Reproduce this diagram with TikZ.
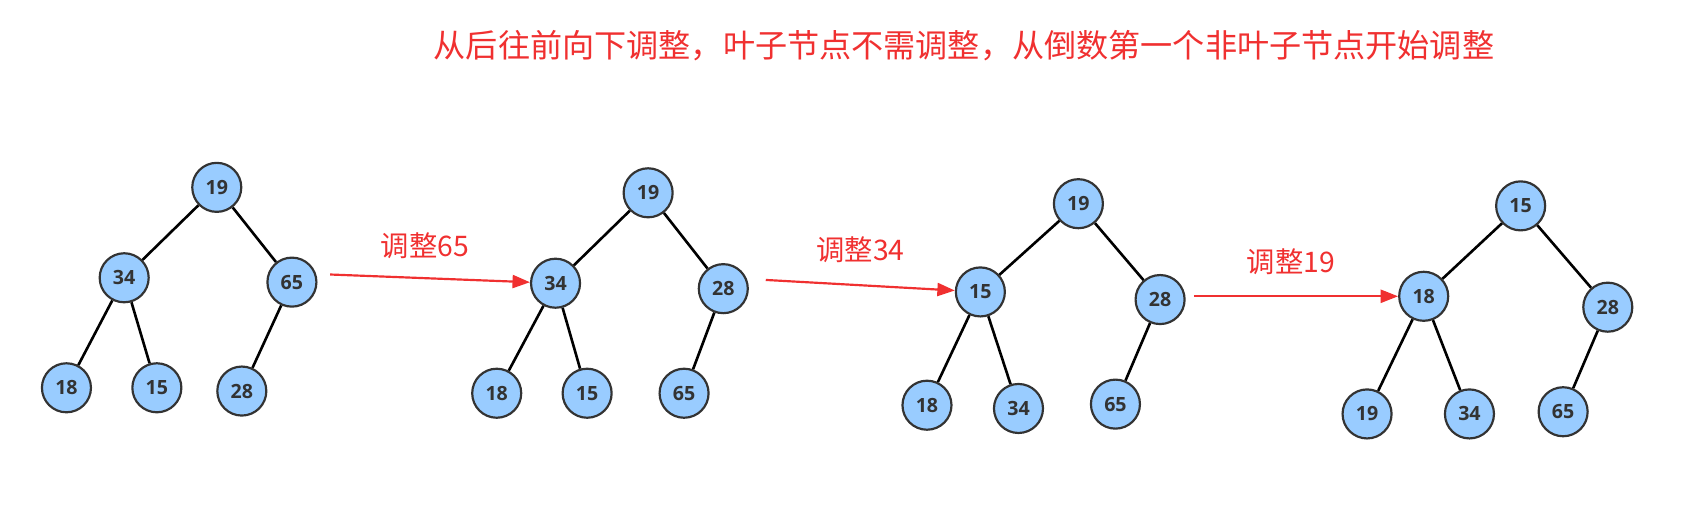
\documentclass[tikz,border=0pt]{standalone}
\usepackage{fontspec}
\setmainfont{Open Sans}
\newfontfamily\cjk{Noto Sans CJK SC}
\usetikzlibrary{arrows.meta}
\definecolor{nodeblue}{HTML}{99CCFF}
\definecolor{redtxt}{HTML}{F03030}
\begin{document}
\begin{tikzpicture}[x=1pt,y=-1pt,
  hn/.style={circle,draw=black!80,line width=2pt,fill=nodeblue,minimum size=45pt,inner sep=0pt,font=\bfseries\fontsize{18}{18}\selectfont,text=black!80},
  ed/.style={line width=2.4pt,black},
  sarrow/.style={draw=redtxt,line width=2pt,-{Triangle[length=16pt,width=12pt]}},
  lab/.style={text=redtxt,font=\cjk\fontsize{26}{26}\selectfont}]
\useasboundingbox (0,0) rectangle (1568,465);
\node[text=redtxt,font=\cjk\fontsize{29.5}{29.5}\selectfont] (title) at (885,42) {从后往前向下调整，叶子节点不需调整，从倒数第一个非叶子节点开始调整};
% tree 1
\node[hn] (a19) at (199,172) {19};
\node[hn] (a34) at (114,255) {34};
\node[hn] (a65) at (268,259) {65};
\node[hn] (a18) at (61,356) {18};
\node[hn] (a15) at (144,356) {15};
\node[hn] (a28) at (222,359) {28};
\draw[ed] (a19)--(a34); \draw[ed] (a19)--(a65); \draw[ed] (a34)--(a18); \draw[ed] (a34)--(a15); \draw[ed] (a65)--(a28);
% tree 2
\node[hn] (b19) at (595,177) {19};
\node[hn] (b34) at (510,260) {34};
\node[hn] (b28) at (664,265) {28};
\node[hn] (b18) at (456,361) {18};
\node[hn] (b15) at (539,361) {15};
\node[hn] (b65) at (628,361) {65};
\draw[ed] (b19)--(b34); \draw[ed] (b19)--(b28); \draw[ed] (b34)--(b18); \draw[ed] (b34)--(b15); \draw[ed] (b28)--(b65);
% tree 3
\node[hn] (c19) at (990,187) {19};
\node[hn] (c15) at (900,268) {15};
\node[hn] (c28) at (1065,275) {28};
\node[hn] (c18) at (851,372) {18};
\node[hn] (c34) at (935,375) {34};
\node[hn] (c65) at (1024,371) {65};
\draw[ed] (c19)--(c15); \draw[ed] (c19)--(c28); \draw[ed] (c15)--(c18); \draw[ed] (c15)--(c34); \draw[ed] (c28)--(c65);
% tree 4
\node[hn] (d15) at (1396,189) {15};
\node[hn] (d18) at (1307,272) {18};
\node[hn] (d28) at (1476,282) {28};
\node[hn] (d19) at (1255,380) {19};
\node[hn] (d34) at (1349,380) {34};
\node[hn] (d65) at (1435,378) {65};
\draw[ed] (d15)--(d18); \draw[ed] (d15)--(d28); \draw[ed] (d18)--(d19); \draw[ed] (d18)--(d34); \draw[ed] (d28)--(d65);
% arrows
\coordinate (s1) at (303,252);
\coordinate (s2) at (703,257);
\coordinate (s3) at (1096,272);
\draw[sarrow] (s1) -- (b34);
\draw[sarrow] (s2) -- (c15);
\draw[sarrow] (s3) -- (d18);
\node[lab] (l1) at (390,226) {调整65};
\node[lab] (l2) at (790,229) {调整34};
\node[lab] (l3) at (1185,240) {调整19};
\end{tikzpicture}
\end{document}
